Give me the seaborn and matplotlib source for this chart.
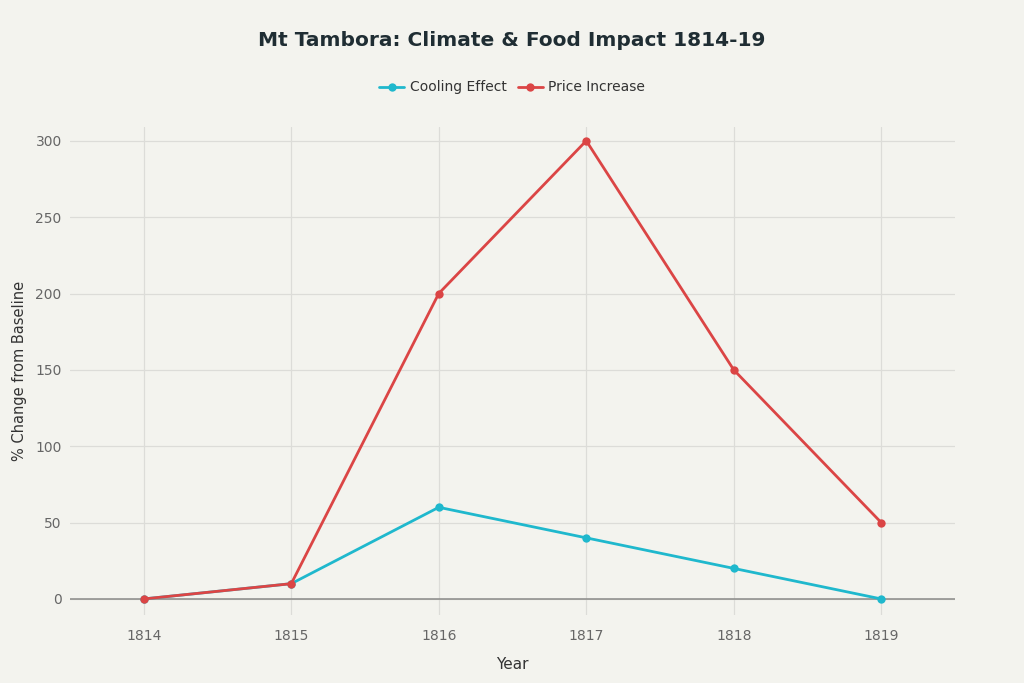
import pandas as pd
import seaborn as sns
import matplotlib.pyplot as plt

# data
years = [1814, 1815, 1816, 1817, 1818, 1819]
cooling_effect = [0, 10, 60, 40, 20, 0]
price_increase = [0, 10, 200, 300, 150, 50]
series_names = ["Cooling Effect", "Price Increase"]
y_ticks = [0, 50, 100, 150, 200, 250, 300]

df = pd.DataFrame({
    "Year": years * 2,
    "Value": cooling_effect + price_increase,
    "Series": [series_names[0]] * len(years) + [series_names[1]] * len(years),
})

bg = "#F3F3EE"
sns.set_theme(style="whitegrid")
plt.rcParams['font.family'] = ['DejaVu Sans']

fig = plt.figure(figsize=(10.24, 6.83), dpi=100, facecolor=bg)
ax = fig.add_axes([0.0684, 0.0996, 0.8642, 0.7144])
ax.set_facecolor(bg)

palette = {"Cooling Effect": "#1FB8CD", "Price Increase": "#DB4545"}
sns.lineplot(data=df, x="Year", y="Value", hue="Series", hue_order=series_names,
             palette=palette, marker="o", markersize=6, markeredgewidth=0,
             linewidth=2, ax=ax, legend=True)

ax.set_xlim(1813.5, 1819.5)
ax.set_ylim(-10.5, 309)
ax.set_xticks(years)
ax.set_xticklabels([str(y) for y in years])
ax.set_yticks(y_ticks)
ax.grid(True, color="#DCDCD8", linewidth=0.9)
ax.axhline(0, color="#8A8A88", linewidth=1.1, zorder=1)
for s in ax.spines.values():
    s.set_visible(False)
ax.tick_params(axis="x", colors="#666666", labelsize=10, length=0, pad=10)
ax.tick_params(axis="y", colors="#666666", labelsize=10, length=0, pad=6)

ax.set_xlabel("Year", fontsize=11, color="#333333", labelpad=10)
ax.set_ylabel("% Change from Baseline", fontsize=10.5, color="#333333", labelpad=6)

handles, labels = ax.get_legend_handles_labels()
ax.get_legend().remove()
fig.legend(handles, labels, loc="center", bbox_to_anchor=(0.5, 0.872), ncol=2,
           frameon=False, fontsize=10, handlelength=1.8, columnspacing=0.8,
           handletextpad=0.4, labelcolor="#333333")

fig.suptitle("Mt Tambora: Climate & Food Impact 1814-19", x=0.5, y=0.955,
             fontsize=14.5, fontweight="bold", color="#1F2D33")

plt.savefig("out.png", dpi=100, facecolor=bg)
